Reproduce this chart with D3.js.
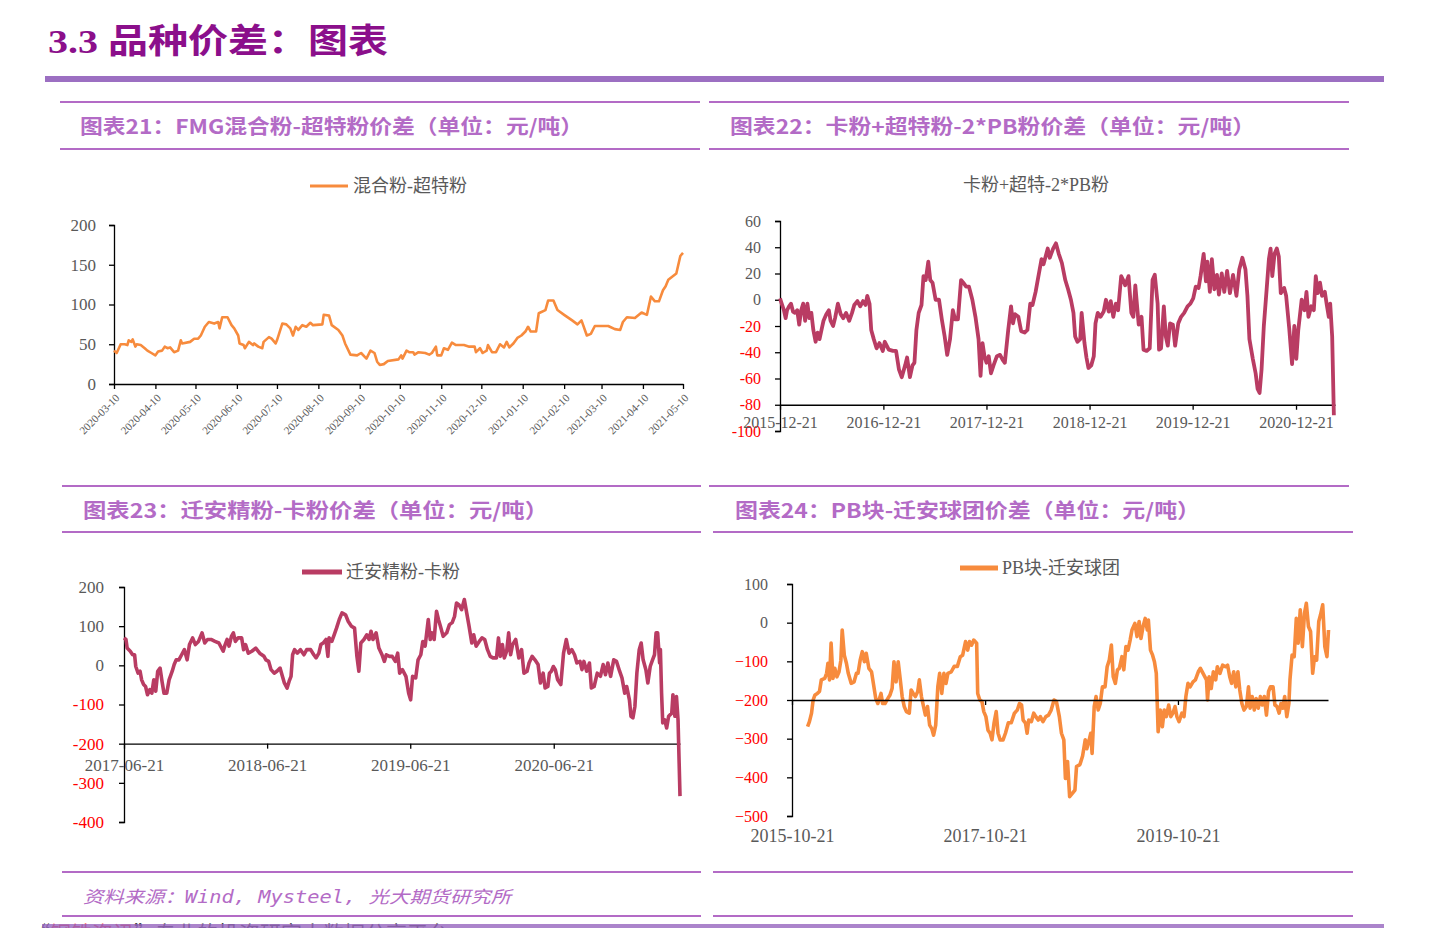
<!DOCTYPE html>
<html>
<head>
<meta charset="utf-8">
<script src="https://cdn.jsdelivr.net/npm/d3@7"></script>
<style>
    body { margin: 0; background: #fff; }
    svg text { font-family: "Liberation Serif", "Noto Sans CJK SC", serif; }
</style>
</head>
<body>
<svg id="page" width="1440" height="928"></svg>
<script>
    // ---- data ----
    var pageTitle = '3.3 品种价差：图表';
    var panelTitles = [
        '图表21：FMG混合粉-超特粉价差（单位：元/吨）',
        '图表22：卡粉+超特粉-2*PB粉价差（单位：元/吨）',
        '图表23：迁安精粉-卡粉价差（单位：元/吨）',
        '图表24：PB块-迁安球团价差（单位：元/吨）'
    ];
    var sourceNote = '资料来源：Wind, Mysteel, 光大期货研究所';
    var seriesNames = ['混合粉-超特粉', '卡粉+超特-2*PB粉', '迁安精粉-卡粉', 'PB块-迁安球团'];

    // 图表21 FMG混合粉-超特粉
    var fmgSeries = [
        ['2020-03-10',42],['2020-03-12',39],['2020-03-15',50],['2020-03-18',50],['2020-03-20',49],['2020-03-21',55],
        ['2020-03-23',53],['2020-03-24',56],['2020-03-26',47],['2020-03-27',50],['2020-03-30',49],['2020-04-02',45],
        ['2020-04-04',42],['2020-04-07',39],['2020-04-10',36],['2020-04-12',41],['2020-04-15',42],['2020-04-17',47],
        ['2020-04-19',45],['2020-04-21',46],['2020-04-24',40],['2020-04-27',42],['2020-04-29',55],['2020-04-30',51],
        ['2020-05-06',53],['2020-05-09',57],['2020-05-12',57],['2020-05-14',61],['2020-05-17',72],['2020-05-20',78],
        ['2020-05-24',76],['2020-05-27',78],['2020-05-28',70],['2020-05-30',84],['2020-06-03',84],['2020-06-06',74],
        ['2020-06-08',70],['2020-06-11',61],['2020-06-12',51],['2020-06-15',49],['2020-06-16',45],['2020-06-19',53],
        ['2020-06-22',49],['2020-06-23',51],['2020-06-26',47],['2020-06-29',45],['2020-06-30',53],['2020-07-04',59],
        ['2020-07-06',57],['2020-07-09',51],['2020-07-10',55],['2020-07-14',76],['2020-07-17',75],['2020-07-20',70],
        ['2020-07-22',61],['2020-07-24',72],['2020-07-26',68],['2020-07-29',74],['2020-08-01',72],['2020-08-04',77],
        ['2020-08-06',74],['2020-08-13',75],['2020-08-14',87],['2020-08-18',86],['2020-08-20',74],['2020-08-25',68],
        ['2020-08-28',61],['2020-08-30',51],['2020-09-03',37],['2020-09-08',36],['2020-09-11',39],['2020-09-15',32],
        ['2020-09-18',42],['2020-09-21',39],['2020-09-23',28],['2020-09-25',24],['2020-09-28',25],['2020-10-01',29],
        ['2020-10-09',31],['2020-10-11',36],['2020-10-12',32],['2020-10-15',42],['2020-10-17',40],['2020-10-20',40],
        ['2020-10-21',37],['2020-10-24',40],['2020-10-29',39],['2020-11-01',37],['2020-11-03',39],['2020-11-06',47],
        ['2020-11-07',36],['2020-11-10',36],['2020-11-12',45],['2020-11-15',43],['2020-11-18',52],['2020-11-21',49],
        ['2020-11-27',49],['2020-12-01',47],['2020-12-05',47],['2020-12-06',40],['2020-12-09',45],['2020-12-11',39],
        ['2020-12-14',42],['2020-12-15',49],['2020-12-18',40],['2020-12-21',40],['2020-12-24',50],['2020-12-27',46],
        ['2020-12-29',53],['2020-12-31',46],['2021-01-03',51],['2021-01-06',58],['2021-01-09',61],['2021-01-12',66],
        ['2021-01-14',72],['2021-01-16',66],['2021-01-20',66],['2021-01-22',89],['2021-01-27',93],['2021-01-29',105],
        ['2021-02-02',105],['2021-02-05',93],['2021-02-10',87],['2021-02-16',80],['2021-02-20',75],['2021-02-23',80],
        ['2021-02-27',61],['2021-03-02',63],['2021-03-05',73],['2021-03-15',73],['2021-03-20',69],['2021-03-24',68],
        ['2021-03-26',78],['2021-03-29',84],['2021-04-04',83],['2021-04-09',90],['2021-04-13',87],['2021-04-16',110],
        ['2021-04-19',104],['2021-04-22',104],['2021-04-25',118],['2021-04-27',123],['2021-04-29',131],['2021-05-05',139],
        ['2021-05-08',161],['2021-05-10',165]
    ];
    var fmgTicks = ['2020-03-10','2020-04-10','2020-05-10','2020-06-10','2020-07-10','2020-08-10','2020-09-10',
        '2020-10-10','2020-11-10','2020-12-10','2021-01-10','2021-02-10','2021-03-10','2021-04-10','2021-05-10'];
    var fmgYTicks = [0, 50, 100, 150, 200];

    // 图表22 卡粉+超特粉-2*PB粉
    var kfSeries = [
        ['2015-12-21',1],['2015-12-27',-3],['2016-01-04',-8],['2016-01-10',-14],['2016-01-15',-8],['2016-01-22',-5],
        ['2016-01-29',-3],['2016-02-05',-9],['2016-02-12',-10],['2016-02-20',-8],['2016-02-27',-19],['2016-03-05',-8],
        ['2016-03-12',-3],['2016-03-19',-16],['2016-03-27',-3],['2016-04-03',-14],['2016-04-10',-10],['2016-04-17',-23],
        ['2016-04-25',-32],['2016-05-02',-25],['2016-05-09',-30],['2016-05-16',-23],['2016-05-23',-16],['2016-06-02',-11],
        ['2016-06-11',-8],['2016-06-17',-16],['2016-06-26',-20],['2016-07-03',-14],['2016-07-13',-3],['2016-07-23',-11],
        ['2016-08-01',-14],['2016-08-11',-10],['2016-08-22',-16],['2016-09-01',-10],['2016-09-09',-4],['2016-09-20',-1],
        ['2016-09-30',-5],['2016-10-10',-1],['2016-10-19',-4],['2016-10-25',3],['2016-11-02',-3],['2016-11-08',-23],
        ['2016-11-17',-30],['2016-11-27',-37],['2016-12-07',-33],['2016-12-19',-39],['2016-12-26',-32],['2017-01-09',-38],
        ['2017-01-24',-39],['2017-02-04',-39],['2017-02-14',-53],['2017-02-24',-59],['2017-03-08',-50],['2017-03-15',-44],
        ['2017-03-25',-59],['2017-04-03',-50],['2017-04-10',-48],['2017-04-17',-23],['2017-04-25',-10],['2017-05-05',-4],
        ['2017-05-12',18],['2017-05-20',15],['2017-05-29',29],['2017-06-05',15],['2017-06-13',13],['2017-06-24',0],
        ['2017-07-06',0],['2017-07-16',-15],['2017-07-26',-28],['2017-08-04',-42],['2017-08-14',-30],['2017-08-24',-8],
        ['2017-09-01',-15],['2017-09-11',-15],['2017-09-22',15],['2017-09-30',13],['2017-10-10',10],['2017-10-20',10],
        ['2017-11-01',0],['2017-11-12',-13],['2017-11-23',-30],['2017-11-30',-58],['2017-12-07',-33],['2017-12-14',-43],
        ['2017-12-21',-48],['2017-12-29',-43],['2018-01-06',-56],['2018-01-15',-50],['2018-01-27',-43],['2018-02-07',-42],
        ['2018-02-17',-46],['2018-02-24',-48],['2018-03-08',-23],['2018-03-18',-5],['2018-03-25',-18],['2018-04-01',-11],
        ['2018-04-13',-13],['2018-04-23',-24],['2018-05-05',-25],['2018-05-15',-23],['2018-05-25',-3],['2018-06-02',-4],
        ['2018-06-13',6],['2018-06-23',18],['2018-07-04',31],['2018-07-11',27],['2018-07-26',39],['2018-08-02',32],
        ['2018-08-14',39],['2018-08-24',43],['2018-09-03',35],['2018-09-14',28],['2018-09-26',15],['2018-10-06',8],
        ['2018-10-16',0],['2018-10-25',-10],['2018-10-31',-28],['2018-11-08',-32],['2018-11-18',-30],['2018-11-23',-10],
        ['2018-12-03',-33],['2018-12-10',-44],['2018-12-17',-52],['2018-12-27',-50],['2019-01-05',-43],['2019-01-11',-18],
        ['2019-01-19',-10],['2019-01-29',-13],['2019-02-09',-9],['2019-02-17',0],['2019-02-27',-9],['2019-03-06',-1],
        ['2019-03-15',-13],['2019-03-24',-3],['2019-04-01',-8],['2019-04-12',18],['2019-04-19',15],['2019-04-26',11],
        ['2019-05-08',18],['2019-05-18',-10],['2019-05-25',-13],['2019-06-01',11],['2019-06-13',-19],['2019-06-23',-13],
        ['2019-06-30',-38],['2019-07-11',-39],['2019-07-22',-37],['2019-08-01',15],['2019-08-09',19],['2019-08-19',-3],
        ['2019-08-24',-38],['2019-08-31',-37],['2019-09-10',-5],['2019-09-17',-28],['2019-09-24',-35],['2019-10-02',-18],
        ['2019-10-12',-19],['2019-10-20',-35],['2019-10-31',-18],['2019-11-10',-13],['2019-11-21',-10],['2019-12-03',-5],
        ['2019-12-13',-3],['2019-12-23',1],['2020-01-01',10],['2020-01-11',9],['2020-01-18',18],['2020-01-29',35],
        ['2020-02-06',14],['2020-02-11',29],['2020-02-20',6],['2020-02-27',31],['2020-03-07',8],['2020-03-16',19],
        ['2020-03-23',4],['2020-04-02',20],['2020-04-11',6],['2020-04-21',22],['2020-05-01',5],['2020-05-12',19],
        ['2020-05-24',3],['2020-06-03',23],['2020-06-14',32],['2020-06-25',23],['2020-07-02',3],['2020-07-09',-30],
        ['2020-07-21',-45],['2020-07-31',-56],['2020-08-07',-68],['2020-08-14',-71],['2020-08-21',-53],['2020-08-29',-20],
        ['2020-09-08',8],['2020-09-16',31],['2020-09-22',39],['2020-09-28',18],['2020-10-06',35],['2020-10-14',39],
        ['2020-10-21',33],['2020-10-28',5],['2020-11-09',9],['2020-11-16',3],['2020-11-27',-22],['2020-12-07',-49],
        ['2020-12-15',-20],['2020-12-22',-45],['2020-12-29',-23],['2021-01-10',0],['2021-01-20',-8],['2021-01-27',6],
        ['2021-02-03',-13],['2021-02-13',-5],['2021-02-22',-8],['2021-03-01',18],['2021-03-08',5],['2021-03-16',13],
        ['2021-03-23',3],['2021-04-02',6],['2021-04-09',-4],['2021-04-16',-13],['2021-04-21',-3],['2021-04-28',-28],
        ['2021-05-04',-88]
    ];
    var kfTicks = ['2015-12-21','2016-12-21','2017-12-21','2018-12-21','2019-12-21','2020-12-21'];
    var kfYTicks = [-100, -80, -60, -40, -20, 0, 20, 40, 60];

    // 图表23 迁安精粉-卡粉
    var qaSeries = [
        ['2017-06-21',70],['2017-06-26',66],['2017-06-29',44],['2017-07-07',36],['2017-07-13',27],['2017-07-18',27],
        ['2017-07-21',-3],['2017-07-27',-20],['2017-08-01',-15],['2017-08-05',-37],['2017-08-10',-49],['2017-08-15',-54],
        ['2017-08-20',-75],['2017-08-26',-62],['2017-08-31',-71],['2017-09-05',-37],['2017-09-10',-66],['2017-09-15',-15],
        ['2017-09-21',-7],['2017-09-26',-41],['2017-10-01',-71],['2017-10-08',-71],['2017-10-14',-37],['2017-10-22',-15],
        ['2017-10-27',2],['2017-11-01',14],['2017-11-08',14],['2017-11-15',27],['2017-11-22',40],['2017-11-29',14],
        ['2017-12-05',53],['2017-12-13',70],['2017-12-20',53],['2017-12-28',61],['2018-01-06',83],['2018-01-13',57],
        ['2018-01-20',66],['2018-01-29',66],['2018-02-08',61],['2018-02-18',57],['2018-03-01',36],['2018-03-06',53],
        ['2018-03-11',66],['2018-03-16',49],['2018-03-22',74],['2018-03-27',83],['2018-04-01',61],['2018-04-08',70],
        ['2018-04-17',70],['2018-04-22',40],['2018-04-27',53],['2018-05-04',31],['2018-05-13',36],['2018-05-23',44],
        ['2018-06-02',31],['2018-06-13',23],['2018-06-18',14],['2018-06-25',10],['2018-07-01',-11],['2018-07-09',-20],
        ['2018-07-16',-15],['2018-07-24',-7],['2018-07-30',-28],['2018-08-04',-45],['2018-08-11',-58],['2018-08-16',-41],
        ['2018-08-21',-28],['2018-08-25',27],['2018-08-30',40],['2018-09-06',31],['2018-09-14',40],['2018-09-23',27],
        ['2018-09-30',40],['2018-10-10',40],['2018-10-18',27],['2018-10-24',19],['2018-10-31',31],['2018-11-05',53],
        ['2018-11-11',57],['2018-11-18',66],['2018-11-23',23],['2018-11-26',70],['2018-12-03',61],['2018-12-09',78],
        ['2018-12-15',95],['2018-12-22',117],['2018-12-29',134],['2019-01-07',129],['2019-01-14',112],['2019-01-22',100],
        ['2019-01-30',95],['2019-02-05',23],['2019-02-10',-15],['2019-02-15',57],['2019-02-23',66],['2019-03-02',78],
        ['2019-03-08',66],['2019-03-13',87],['2019-03-18',66],['2019-03-26',83],['2019-04-02',44],['2019-04-10',27],
        ['2019-04-16',10],['2019-04-21',27],['2019-04-29',23],['2019-05-06',23],['2019-05-14',10],['2019-05-20',31],
        ['2019-05-25',-20],['2019-06-01',-11],['2019-06-10',-28],['2019-06-17',-71],['2019-06-22',-88],['2019-06-27',-28],
        ['2019-07-05',-32],['2019-07-11',14],['2019-07-18',27],['2019-07-23',61],['2019-07-29',49],['2019-08-06',117],
        ['2019-08-11',66],['2019-08-15',83],['2019-08-21',66],['2019-08-27',138],['2019-09-01',117],['2019-09-06',100],
        ['2019-09-13',74],['2019-09-22',83],['2019-09-29',104],['2019-10-06',109],['2019-10-12',125],['2019-10-17',159],
        ['2019-10-23',155],['2019-10-30',142],['2019-11-06',168],['2019-11-12',134],['2019-11-18',100],['2019-11-25',57],
        ['2019-11-30',78],['2019-12-06',49],['2019-12-14',61],['2019-12-21',70],['2019-12-28',66],['2020-01-04',40],
        ['2020-01-11',23],['2020-01-18',19],['2020-01-27',19],['2020-02-01',70],['2020-02-06',23],['2020-02-11',53],
        ['2020-02-16',19],['2020-02-22',36],['2020-02-27',83],['2020-03-03',27],['2020-03-08',53],['2020-03-16',66],
        ['2020-03-24',19],['2020-03-31',40],['2020-04-06',-20],['2020-04-14',-15],['2020-04-19',6],['2020-04-27',23],
        ['2020-05-04',14],['2020-05-12',2],['2020-05-18',-45],['2020-05-25',-20],['2020-05-30',-58],['2020-06-06',-54],
        ['2020-06-10',-20],['2020-06-15',-15],['2020-06-20',-3],['2020-06-25',-11],['2020-07-01',-37],['2020-07-09',-49],
        ['2020-07-16',31],['2020-07-23',66],['2020-07-30',31],['2020-08-06',40],['2020-08-13',27],['2020-08-19',6],
        ['2020-08-27',10],['2020-09-01',-11],['2020-09-06',10],['2020-09-13',-15],['2020-09-20',6],['2020-09-25',-58],
        ['2020-10-02',-54],['2020-10-10',-20],['2020-10-18',-28],['2020-10-25',2],['2020-10-31',-24],['2020-11-06',6],
        ['2020-11-13',-28],['2020-11-21',14],['2020-11-28',10],['2020-12-06',-15],['2020-12-12',-32],['2020-12-19',-71],
        ['2020-12-24',-54],['2020-12-31',-88],['2021-01-04',-130],['2021-01-09',-134],['2021-01-14',-105],['2021-01-19',-20],
        ['2021-01-25',40],['2021-01-30',57],['2021-02-04',14],['2021-02-11',-11],['2021-02-16',-45],['2021-02-22',-3],
        ['2021-02-28',14],['2021-03-05',27],['2021-03-09',83],['2021-03-13',83],['2021-03-18',6],['2021-03-20',40],
        ['2021-03-23',-71],['2021-03-26',-147],['2021-03-31',-139],['2021-04-05',-160],['2021-04-10',-130],['2021-04-18',-122],
        ['2021-04-21',-75],['2021-04-26',-130],['2021-04-30',-80],['2021-05-04',-139],['2021-05-09',-334]
    ];
    var qaTicks = ['2017-06-21','2018-06-21','2019-06-21','2020-06-21'];
    var qaYTicks = [-400, -300, -200, -100, 0, 100, 200];

    // 图表24 PB块-迁安球团
    var pbSeries = [
        ['2015-12-19',-269],['2015-12-26',-256],['2016-01-03',-234],['2016-01-09',-200],['2016-01-16',-187],['2016-01-25',-183],
        ['2016-02-02',-178],['2016-02-09',-148],['2016-02-22',-144],['2016-02-29',-131],['2016-03-05',-105],['2016-03-11',-148],
        ['2016-03-17',-53],['2016-03-24',-144],['2016-03-31',-118],['2016-04-08',-140],['2016-04-16',-127],['2016-04-23',-97],
        ['2016-04-28',-19],['2016-05-06',-84],['2016-05-14',-105],['2016-05-21',-131],['2016-06-01',-157],['2016-06-12',-153],
        ['2016-06-21',-131],['2016-06-27',-131],['2016-07-05',-97],['2016-07-13',-75],['2016-07-21',-101],['2016-07-28',-79],
        ['2016-08-07',-118],['2016-08-17',-127],['2016-08-25',-161],['2016-09-02',-196],['2016-09-10',-209],['2016-09-22',-183],
        ['2016-09-28',-209],['2016-10-07',-209],['2016-10-18',-196],['2016-10-26',-187],['2016-11-03',-170],['2016-11-10',-101],
        ['2016-11-18',-153],['2016-11-26',-101],['2016-12-04',-148],['2016-12-11',-191],['2016-12-19',-217],['2016-12-27',-230],
        ['2017-01-07',-234],['2017-01-14',-174],['2017-01-22',-183],['2017-01-30',-191],['2017-02-08',-178],['2017-02-14',-148],
        ['2017-02-22',-191],['2017-03-02',-217],['2017-03-09',-239],['2017-03-17',-217],['2017-03-25',-265],['2017-04-02',-274],
        ['2017-04-09',-291],['2017-04-17',-265],['2017-04-25',-166],['2017-05-02',-131],['2017-05-10',-183],['2017-05-18',-131],
        ['2017-05-26',-157],['2017-06-02',-131],['2017-06-15',-127],['2017-06-26',-113],['2017-07-08',-113],['2017-07-19',-88],
        ['2017-07-28',-84],['2017-08-08',-49],['2017-08-16',-71],['2017-08-23',-49],['2017-08-31',-58],['2017-09-08',-45],
        ['2017-09-19',-53],['2017-09-23',-183],['2017-10-01',-200],['2017-10-09',-204],['2017-10-16',-230],['2017-10-24',-243],
        ['2017-11-01',-278],['2017-11-09',-286],['2017-11-16',-303],['2017-11-24',-259],['2017-12-02',-230],['2017-12-09',-286],
        ['2017-12-17',-303],['2017-12-28',-303],['2018-01-06',-286],['2018-01-17',-259],['2018-01-28',-259],['2018-02-09',-234],
        ['2018-02-20',-226],['2018-02-28',-209],['2018-03-08',-213],['2018-03-14',-252],['2018-03-23',-260],['2018-03-29',-286],
        ['2018-04-04',-252],['2018-04-14',-256],['2018-04-23',-234],['2018-05-01',-243],['2018-05-10',-252],['2018-05-18',-243],
        ['2018-05-28',-256],['2018-06-08',-243],['2018-06-18',-239],['2018-06-28',-226],['2018-07-09',-200],['2018-07-18',-204],
        ['2018-07-29',-243],['2018-08-06',-286],['2018-08-15',-303],['2018-08-21',-403],['2018-08-29',-359],['2018-09-06',-450],
        ['2018-09-17',-441],['2018-09-26',-433],['2018-10-02',-372],['2018-10-15',-367],['2018-10-25',-345],['2018-11-04',-303],
        ['2018-11-10',-326],['2018-11-19',-303],['2018-11-25',-286],['2018-11-30',-338],['2018-12-08',-217],['2018-12-15',-191],
        ['2018-12-23',-226],['2018-12-31',-209],['2019-01-08',-166],['2019-01-18',-166],['2019-01-26',-114],['2019-02-03',-97],
        ['2019-02-11',-58],['2019-02-18',-140],['2019-02-26',-157],['2019-03-06',-122],['2019-03-13',-118],['2019-03-23',-88],
        ['2019-03-30',-122],['2019-04-07',-62],['2019-04-15',-71],['2019-04-23',-45],['2019-04-30',-19],['2019-05-11',-2],
        ['2019-05-19',-36],['2019-05-27',3],['2019-06-03',-41],['2019-06-11',-10],['2019-06-19',11],['2019-06-27',-19],
        ['2019-07-01',7],['2019-07-09',-71],['2019-07-17',-84],['2019-07-24',-101],['2019-07-31',-131],['2019-08-07',-282],
        ['2019-08-15',-226],['2019-08-23',-269],['2019-08-30',-226],['2019-09-07',-243],['2019-09-16',-213],['2019-09-24',-243],
        ['2019-10-02',-234],['2019-10-10',-217],['2019-10-17',-243],['2019-10-25',-256],['2019-11-05',-234],['2019-11-13',-243],
        ['2019-11-20',-191],['2019-11-28',-157],['2019-12-06',-166],['2019-12-17',-153],['2019-12-26',-148],['2020-01-06',-127],
        ['2020-01-14',-118],['2020-01-24',-131],['2020-02-06',-148],['2020-02-10',-200],['2020-02-16',-140],['2020-02-24',-170],
        ['2020-03-03',-127],['2020-03-12',-148],['2020-03-18',-114],['2020-03-28',-131],['2020-04-07',-110],['2020-04-18',-114],
        ['2020-04-26',-110],['2020-05-04',-140],['2020-05-11',-157],['2020-05-19',-127],['2020-05-27',-166],['2020-06-04',-127],
        ['2020-06-11',-174],['2020-06-19',-209],['2020-06-27',-226],['2020-07-06',-217],['2020-07-14',-166],['2020-07-20',-221],
        ['2020-07-28',-191],['2020-08-05',-226],['2020-08-12',-196],['2020-08-20',-221],['2020-08-28',-191],['2020-09-04',-213],
        ['2020-09-12',-191],['2020-09-20',-239],['2020-09-28',-178],['2020-10-05',-166],['2020-10-15',-166],['2020-10-22',-213],
        ['2020-10-30',-217],['2020-11-07',-234],['2020-11-14',-209],['2020-11-21',-221],['2020-11-28',-191],['2020-12-06',-243],
        ['2020-12-14',-209],['2020-12-18',-148],['2020-12-26',-84],['2021-01-03',-88],['2021-01-11',11],['2021-01-18',-53],
        ['2021-01-26',33],['2021-02-03',-62],['2021-02-11',24],['2021-02-18',50],['2021-02-26',-10],['2021-03-06',-23],
        ['2021-03-14',-131],['2021-03-21',-88],['2021-03-29',-97],['2021-04-06',3],['2021-04-13',21],['2021-04-21',46],
        ['2021-04-29',-62],['2021-05-07',-88],['2021-05-13',-19]
    ];
    var pbTicks = ['2015-10-21','2017-10-21','2019-10-21'];
    var pbYTicks = [-500, -400, -300, -200, -100, 0, 100];

    // ---- drawing ----
    var ORANGE = '#f78b3d', CRIMSON = '#b93c63', PURPLE = '#b36bc6', GREY = '#595959';
    var parse = d3.timeParse('%Y-%m-%d');
    var svg = d3.select('#page');

    // page title and rules
    svg.append('text').attr('x', 48).attr('y', 53)
        .attr('fill', '#8b0f8b').style('font-size', '34px').style('font-weight', 'bold')
        .attr('textLength', 340).attr('lengthAdjust', 'spacingAndGlyphs')
        .text(pageTitle);
    svg.append('rect').attr('x', 45).attr('y', 76).attr('width', 1339).attr('height', 6).attr('fill', '#9c6fc2');

    function rule(x1, x2, yy) {
        svg.append('line').attr('x1', x1).attr('x2', x2).attr('y1', yy).attr('y2', yy)
            .attr('stroke', PURPLE).attr('stroke-width', 2.2);
    }
    // header frames
    rule(60, 700, 102); rule(60, 700, 149); rule(709, 1349, 102); rule(709, 1349, 149);
    rule(62, 701, 486); rule(62, 701, 532); rule(709, 1349, 486); rule(713, 1353, 532);
    rule(62, 701, 872); rule(62, 701, 916); rule(713, 1353, 872); rule(713, 1353, 916);

    var headerPos = [[80, 134, 503], [730, 134, 525], [83, 518, 465], [735, 518, 465]];
    panelTitles.forEach(function (t, i) {
        svg.append('text').attr('x', headerPos[i][0]).attr('y', headerPos[i][1])
            .attr('fill', PURPLE).style('font-family', '"Noto Sans CJK SC"').style('font-size', '20px')
            .style('font-weight', 'bold').attr('textLength', headerPos[i][2]).attr('lengthAdjust', 'spacingAndGlyphs')
            .text(t);
    });

    svg.append('text').attr('x', 83).attr('y', 903).attr('fill', PURPLE)
        .style('font-family', '"DejaVu Sans Mono","Noto Sans CJK SC"').style('font-size', '17px').style('font-style', 'italic')
        .attr('textLength', 428).attr('lengthAdjust', 'spacingAndGlyphs')
        .text(sourceNote);

    // banner at the very bottom, cut by the page edge as in the reference
    var banner = svg.append('text').attr('x', 29).attr('y', 941)
        .style('font-family', '"Noto Sans CJK SC"').style('font-size', '21px');
    banner.append('tspan').attr('fill', '#000').text('“');
    banner.append('tspan').attr('fill', '#ff0000').text('钢铁资讯');
    banner.append('tspan').attr('fill', '#000').text('”专业的投资研究大数据分享平台');
    svg.append('rect').attr('x', 42).attr('y', 924).attr('width', 1342).attr('height', 4)
        .attr('fill', '#9c6fc2').attr('opacity', 0.85);

    function styleAxis(g, size) {
        g.attr('font-family', null).attr('font-size', null);
        g.selectAll('path, line').attr('stroke', '#000').attr('stroke-width', 1.3);
        g.selectAll('text').style('font-size', size + 'px').attr('fill', GREY);
    }

    function drawChart(c) {
        var g = svg.append('g');
        var x = d3.scaleTime().domain(c.xDomain.map(parse)).range(c.xRange);
        var y = d3.scaleLinear().domain(c.yDomain).range(c.yRange);
        var line = d3.line()
            .x(function (d) { return x(parse(d[0])); })
            .y(function (d) { return y(d[1]); });

        var gy = g.append('g').attr('transform', 'translate(' + c.xRange[0] + ',0)')
            .call(d3.axisLeft(y).tickValues(c.yTicks).tickSize(5).tickPadding(c.yPad).tickFormat(c.yFormat));
        styleAxis(gy, c.yFont);
        gy.selectAll('.tick text').attr('fill', function (d) { return c.redNeg && d < 0 ? '#ff0000' : GREY; });

        function drawLine() {
            g.append('path').datum(c.series)
                .attr('fill', 'none').attr('stroke', c.color).attr('stroke-width', c.lw)
                .attr('stroke-linejoin', 'round').attr('d', line);
        }
        if (c.lineUnder) drawLine();

        var ax = d3.axisBottom(x).tickValues(c.xTicks.map(parse)).tickSize(5).tickSizeOuter(0)
            .tickPadding(c.xPad).tickFormat(d3.timeFormat('%Y-%m-%d'));
        if (c.labelsAtBottom) ax.tickFormat('');
        var gx = g.append('g').attr('transform', 'translate(0,' + y(c.xAxisAt) + ')').call(ax);
        styleAxis(gx, c.xFont);
        if (c.rotate) {
            gx.selectAll('.tick text').attr('x', 0).attr('y', 0).attr('dy', '0.35em')
                .attr('text-anchor', 'end').attr('transform', 'translate(3,12) rotate(-45)');
        }
        if (c.labelsAtBottom) {
            var gb = g.append('g').attr('transform', 'translate(0,' + c.yRange[0] + ')')
                .call(d3.axisBottom(x).tickValues(c.xTicks.map(parse)).tickSize(0).tickPadding(c.xPad)
                    .tickFormat(d3.timeFormat('%Y-%m-%d')));
            styleAxis(gb, c.xFont);
            gb.select('.domain').remove();
        }

        if (!c.lineUnder) drawLine();

        // legend
        var lg = svg.append('g');
        if (c.legendLine) {
            lg.append('line').attr('x1', c.legendLine[0]).attr('x2', c.legendLine[1])
                .attr('y1', c.legendY).attr('y2', c.legendY)
                .attr('stroke', c.color).attr('stroke-width', c.legendW);
        }
        lg.append('text').attr('x', c.legendX).attr('y', c.legendY).attr('dy', '0.35em')
            .attr('text-anchor', c.legendAnchor || 'start').attr('fill', GREY)
            .style('font-size', c.legendFont + 'px').text(c.name);
    }

    drawChart({
        series: fmgSeries, name: seriesNames[0], color: ORANGE, lw: 2.6,
        xDomain: ['2020-03-10', '2021-05-10'], xRange: [114, 683], xTicks: fmgTicks,
        yDomain: [0, 200], yRange: [384, 225], yTicks: fmgYTicks, xAxisAt: 0,
        yFormat: String, yFont: 17, yPad: 13, xFont: 11, xPad: 3, rotate: true,
        legendLine: [310, 348], legendW: 3, legendX: 353, legendY: 186, legendFont: 18
    });
    drawChart({
        series: kfSeries, name: seriesNames[1], color: CRIMSON, lw: 3.8,
        xDomain: ['2015-12-21', '2021-05-08'], xRange: [780, 1335], xTicks: kfTicks,
        yDomain: [-100, 60], yRange: [431, 221], yTicks: kfYTicks, xAxisAt: -80,
        yFormat: String, yFont: 16, yPad: 14, xFont: 16, xPad: 7, redNeg: true,
        legendX: 1036, legendY: 185, legendFont: 18, legendAnchor: 'middle'
    });
    drawChart({
        series: qaSeries, name: seriesNames[2], color: CRIMSON, lw: 3.6,
        xDomain: ['2017-06-21', '2021-05-09'], xRange: [124, 680], xTicks: qaTicks,
        yDomain: [-400, 200], yRange: [822, 587], yTicks: qaYTicks, xAxisAt: -200,
        yFormat: String, yFont: 17, yPad: 15, xFont: 17, xPad: 10, redNeg: true,
        legendLine: [302, 342], legendW: 5, legendX: 346, legendY: 572, legendFont: 18
    });
    drawChart({
        series: pbSeries, name: seriesNames[3], color: ORANGE, lw: 3.6,
        xDomain: ['2015-10-21', '2021-05-11'], xRange: [792, 1328], xTicks: pbTicks,
        yDomain: [-500, 100], yRange: [816, 584], yTicks: pbYTicks, xAxisAt: -200,
        yFormat: d3.format('d'), yFont: 16, yPad: 19, xFont: 18, xPad: 13, redNeg: true,
        labelsAtBottom: true, lineUnder: true,
        legendLine: [960, 998], legendW: 5, legendX: 1002, legendY: 568, legendFont: 18
    });
</script>
</body>
</html>
